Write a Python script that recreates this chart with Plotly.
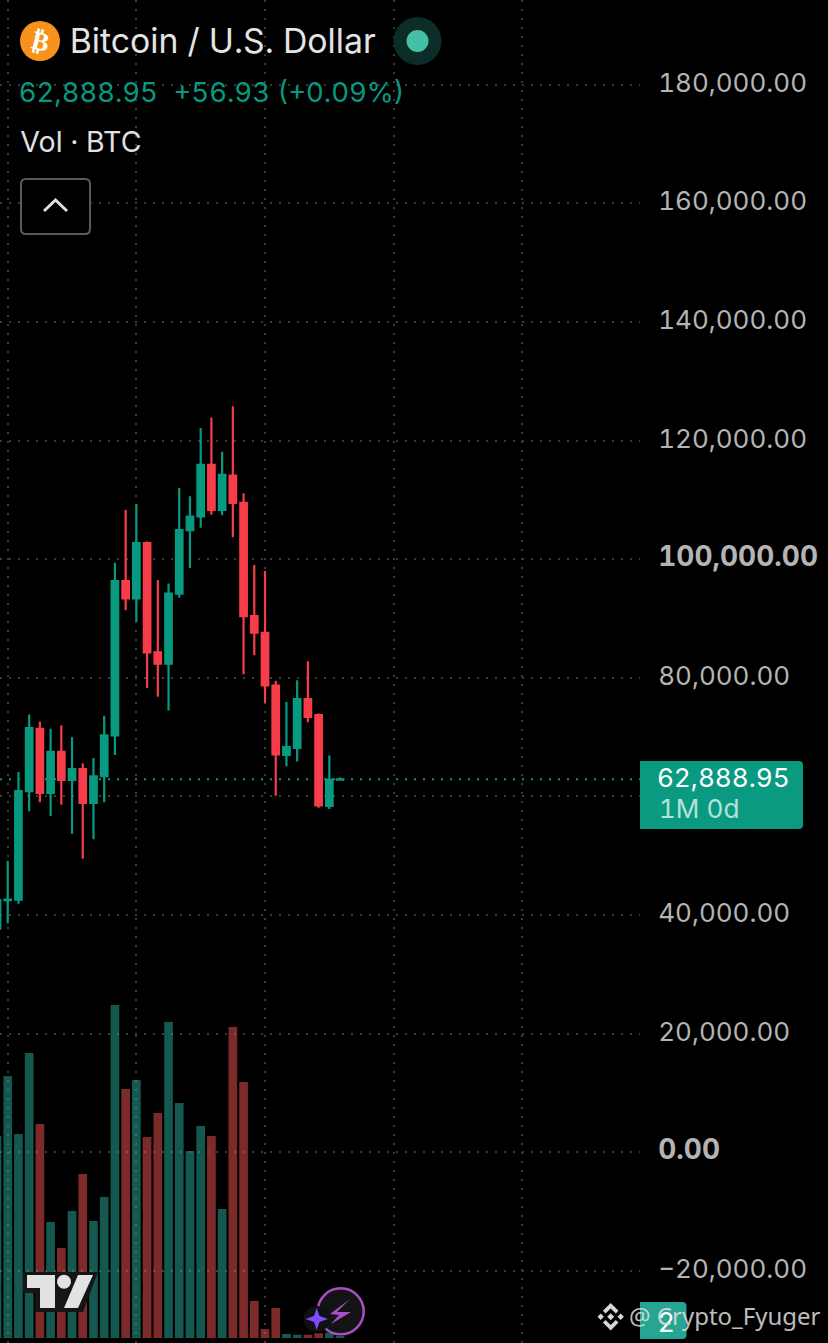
import plotly.graph_objects as go

W, H, PLOT_W = 828, 1343, 640

months = ["2023-12"] + [f"{y}-{m:02d}" for y in range(2024, 2029) for m in range(1, 13)]
dates = months[:33]
opens = [37700,42500,42600,60900,71400,60600,67500,62800,64600,58900,63400,70300,96300,93400,102700,84300,82400,94200,104900,107200,115900,108300,114100,109500,90400,87600,78700,67000,68200,76400,73700,58400,62832.02]
highs = [44700,49100,64100,73800,72600,71400,72000,70000,65600,66500,73600,99400,108300,109300,103000,96500,95900,112000,110600,122100,123900,118100,125800,111100,99000,98000,79500,75900,79600,82800,74000,66900,63200]
lows = [37600,38600,41900,57500,59000,56700,58600,53700,49500,52800,59000,67000,91400,89500,78300,76800,74500,93500,98500,105300,107500,107400,103700,80600,83800,75800,60100,65100,65900,72500,58100,57900,62700]
closes = [42500,42600,60900,71500,60600,67500,62800,64600,58900,63400,70300,96300,93400,102700,84300,82400,94200,104900,107200,115900,108300,114200,109500,90400,87600,78700,67100,68300,76400,73400,58500,62832.02,62888.95]
volumes = [202,262,204,285,214,116,90,127,164,117,141,333,249,258,201,225,316,235,187,212,202,129,311,256,37,9,30,4,3.3,3.3,4.7,5.3,2]

price_ticks = [-20000,0,20000,40000,60000,80000,100000,120000,140000,160000,180000]
BOLD = '<span style="font-size:28px"><b>%s</b></span>'
price_labels = ["−20,000.00",BOLD % "0.00","20,000.00","40,000.00","","80,000.00",BOLD % "100,000.00","120,000.00","140,000.00","160,000.00","180,000.00"]
year_ticks = ["2024-01","2025-01","2026-01","2027-01","2028-01"]

GREEN, RED = "#089981", "#F73C4A"
vol_colors = ["rgba(40,176,160,0.5)" if c >= o else "rgba(250,84,84,0.5)" for o, c in zip(opens, closes)]

def px(x): return x / PLOT_W
def py(y): return 1 - y / H
def path(points, close=True):
    s = "M" + " L".join(f"{px(x):.5f},{py(y):.5f}" for x, y in points)
    return s + (" Z" if close else "")
def rrect(x0, y0, x1, y1, r, left=True):
    rl = r if left else 0
    return (f"M{px(x0+rl):.5f},{py(y0):.5f} L{px(x1-r):.5f},{py(y0):.5f} Q{px(x1):.5f},{py(y0):.5f} {px(x1):.5f},{py(y0+r):.5f} "
            f"L{px(x1):.5f},{py(y1-r):.5f} Q{px(x1):.5f},{py(y1):.5f} {px(x1-r):.5f},{py(y1):.5f} L{px(x0+rl):.5f},{py(y1):.5f} "
            f"Q{px(x0):.5f},{py(y1):.5f} {px(x0):.5f},{py(y1-rl):.5f} L{px(x0):.5f},{py(y0+rl):.5f} Q{px(x0):.5f},{py(y0):.5f} {px(x0+rl):.5f},{py(y0):.5f} Z")

shapes = []
def shp_path(d, fill="rgba(0,0,0,0)", line=None, lw=0):
    shapes.append(dict(type="path", xref="paper", yref="paper", path=d, fillcolor=fill,
                       line=dict(color=line or "rgba(0,0,0,0)", width=lw), layer="above"))
def circle(cx, cy, r, fill, line=None, lw=0):
    shapes.append(dict(type="circle", xref="paper", yref="paper", x0=px(cx-r), x1=px(cx+r), y0=py(cy+r), y1=py(cy-r),
                       fillcolor=fill, line=dict(color=line or "rgba(0,0,0,0)", width=lw), layer="above"))
def diamond(cx, cy, r, fill):
    shp_path(path([(cx-r,cy),(cx,cy-r),(cx+r,cy),(cx,cy+r)]), fill)

annotations = []
def text(x, y, s, size, color, weight=None, font="Inter", angle=0, anchor="left"):
    annotations.append(dict(xref="paper", yref="paper", x=px(x), y=py(y), text=s, showarrow=False,
                            xanchor=anchor, yanchor="middle", borderpad=0, textangle=angle,
                            font=dict(family=font, size=size, color=color, weight=weight)))

# last price line
shapes.append(dict(type="line", xref="x domain", yref="y", x0=0, x1=1, y0=closes[-1], y1=closes[-1],
                   line=dict(color=GREEN, width=2, dash="2px,7px"), layer="below"))

# header
circle(40, 41, 20, "#F7931A")
text(40, 41, "₿", 26, "#FFFFFF", "bold", "DejaVu Sans", 14, "center")
text(67.5, 40, "Bitcoin / U.S. Dollar", 33.8, "#E4E4E4")
circle(417.5, 41, 24, "#0C2C28")
circle(417.5, 41, 11, "#45BFA5")
text(21, 92, "62,888.95", 27.4, GREEN)
text(176, 92, "+56.93 (+0.09%)", 27.5, GREEN)
text(19, 142, "Vol · BTC", 28.5, "#E0E0E0")
shp_path(rrect(21, 179, 90, 234, 5), "#000000", "#5A5A5A", 2)
shp_path(path([(44,211),(55.5,200),(67,211)], close=False), line="#E0E0E0", lw=3)

# price tag
shp_path(rrect(640, 761, 803, 829, 4, left=False), "#0A9A82")
text(659, 777, "62,888.95", 26.2, "#FFFFFF")
text(660.5, 808, "1M 0d", 26.2, "#B4E2D9")

# TradingView mark
shp_path(path([(23,1272),(98,1272),(83,1312),(35,1312),(35,1293),(23,1293)]), "#151515")
shp_path(path([(27,1275),(55,1275),(55,1308),(40,1308),(40,1288),(27,1288)]), "#E2E2E2")
circle(64, 1281.7, 7, "#E2E2E2")
shp_path(path([(78,1275),(93,1275),(78,1308),(64,1308)]), "#E2E2E2")

# bottom badges
circle(340.7, 1311.3, 23, "#141414", "#A84FC8", 2.5)
shp_path(path([(350,1299),(337,1312),(351,1312),(331,1324),(339,1315),(330,1314)]), "#A84FC8")
circle(316.7, 1319, 13, "#101010")
shp_path(path([(316.7,1308),(319.5,1316),(328,1319),(319.5,1322),(316.7,1330),(314,1322),(305.5,1319),(314,1316)]), "#7B4DFF")

shp_path(rrect(640, 1302, 686.5, 1339, 4, left=False), "#26A592")
text(666, 1322, "2", 27, "#FFFFFF", anchor="center")
for dx, dy, r in [(0,0,3.5),(-10,0,3.2),(10,0,3.2)]:
    diamond(610.7+dx, 1316.7+dy, r, "#D8D8D8")
shp_path(path([(610.7,1303),(618.5,1310.8),(615.8,1313.5),(610.7,1308.4),(605.6,1313.5),(602.9,1310.8)]), "#D8D8D8")
shp_path(path([(610.7,1330.4),(618.5,1322.6),(615.8,1319.9),(610.7,1325),(605.6,1319.9),(602.9,1322.6)]), "#D8D8D8")
text(628, 1315.5, "@ Crypto_Fyuger", 24, "rgba(225,225,225,0.85)", font="Noto Sans")

fig = go.Figure()
fig.add_bar(x=dates, y=volumes, marker=dict(color=vol_colors, line_width=0), yaxis="y2", hoverinfo="skip", showlegend=False)
fig.add_candlestick(x=dates, open=opens, high=highs, low=lows, close=closes, whiskerwidth=0, showlegend=False,
                    increasing=dict(line=dict(color=GREEN, width=2.2), fillcolor=GREEN),
                    decreasing=dict(line=dict(color=RED, width=2.2), fillcolor=RED))

grid = "#3A3A3A"
fig.update_layout(
    width=W, height=H, margin=dict(l=0, r=W-PLOT_W, t=0, b=0), paper_bgcolor="#000000", plot_bgcolor="#000000",
    showlegend=False, bargap=0.19, boxgap=0.13, font=dict(family="Inter"), shapes=shapes, annotations=annotations,
    xaxis=dict(type="category", categoryorder="array", categoryarray=months, range=[0.28, 59.98],
               rangeslider=dict(visible=False), tickmode="array", tickvals=year_ticks, showticklabels=False, ticks="",
               showgrid=True, gridcolor=grid, griddash="2px,7px", gridwidth=2, zeroline=False, showline=False),
    yaxis=dict(range=[-32152, 194278], side="right", tickmode="array", tickvals=price_ticks, ticktext=price_labels,
               tickfont=dict(family="Inter", size=26, color="#B4B4B4"), ticks="outside", ticklen=12, tickcolor="rgba(0,0,0,0)",
               ticklabelshift=-2, showgrid=True, gridcolor=grid, griddash="2px,7px", gridwidth=2, zeroline=False, showline=False),
    yaxis2=dict(range=[-5, 1338], overlaying="y", side="left", visible=False),
)
fig.write_html("out.html", config=dict(displayModeBar=False),
               post_script="document.body.style.margin='0';document.body.style.background='#000';"
                           "var s=document.createElement('style');s.textContent=\"text{font-feature-settings:'tnum' 1;}\";document.head.appendChild(s);")
